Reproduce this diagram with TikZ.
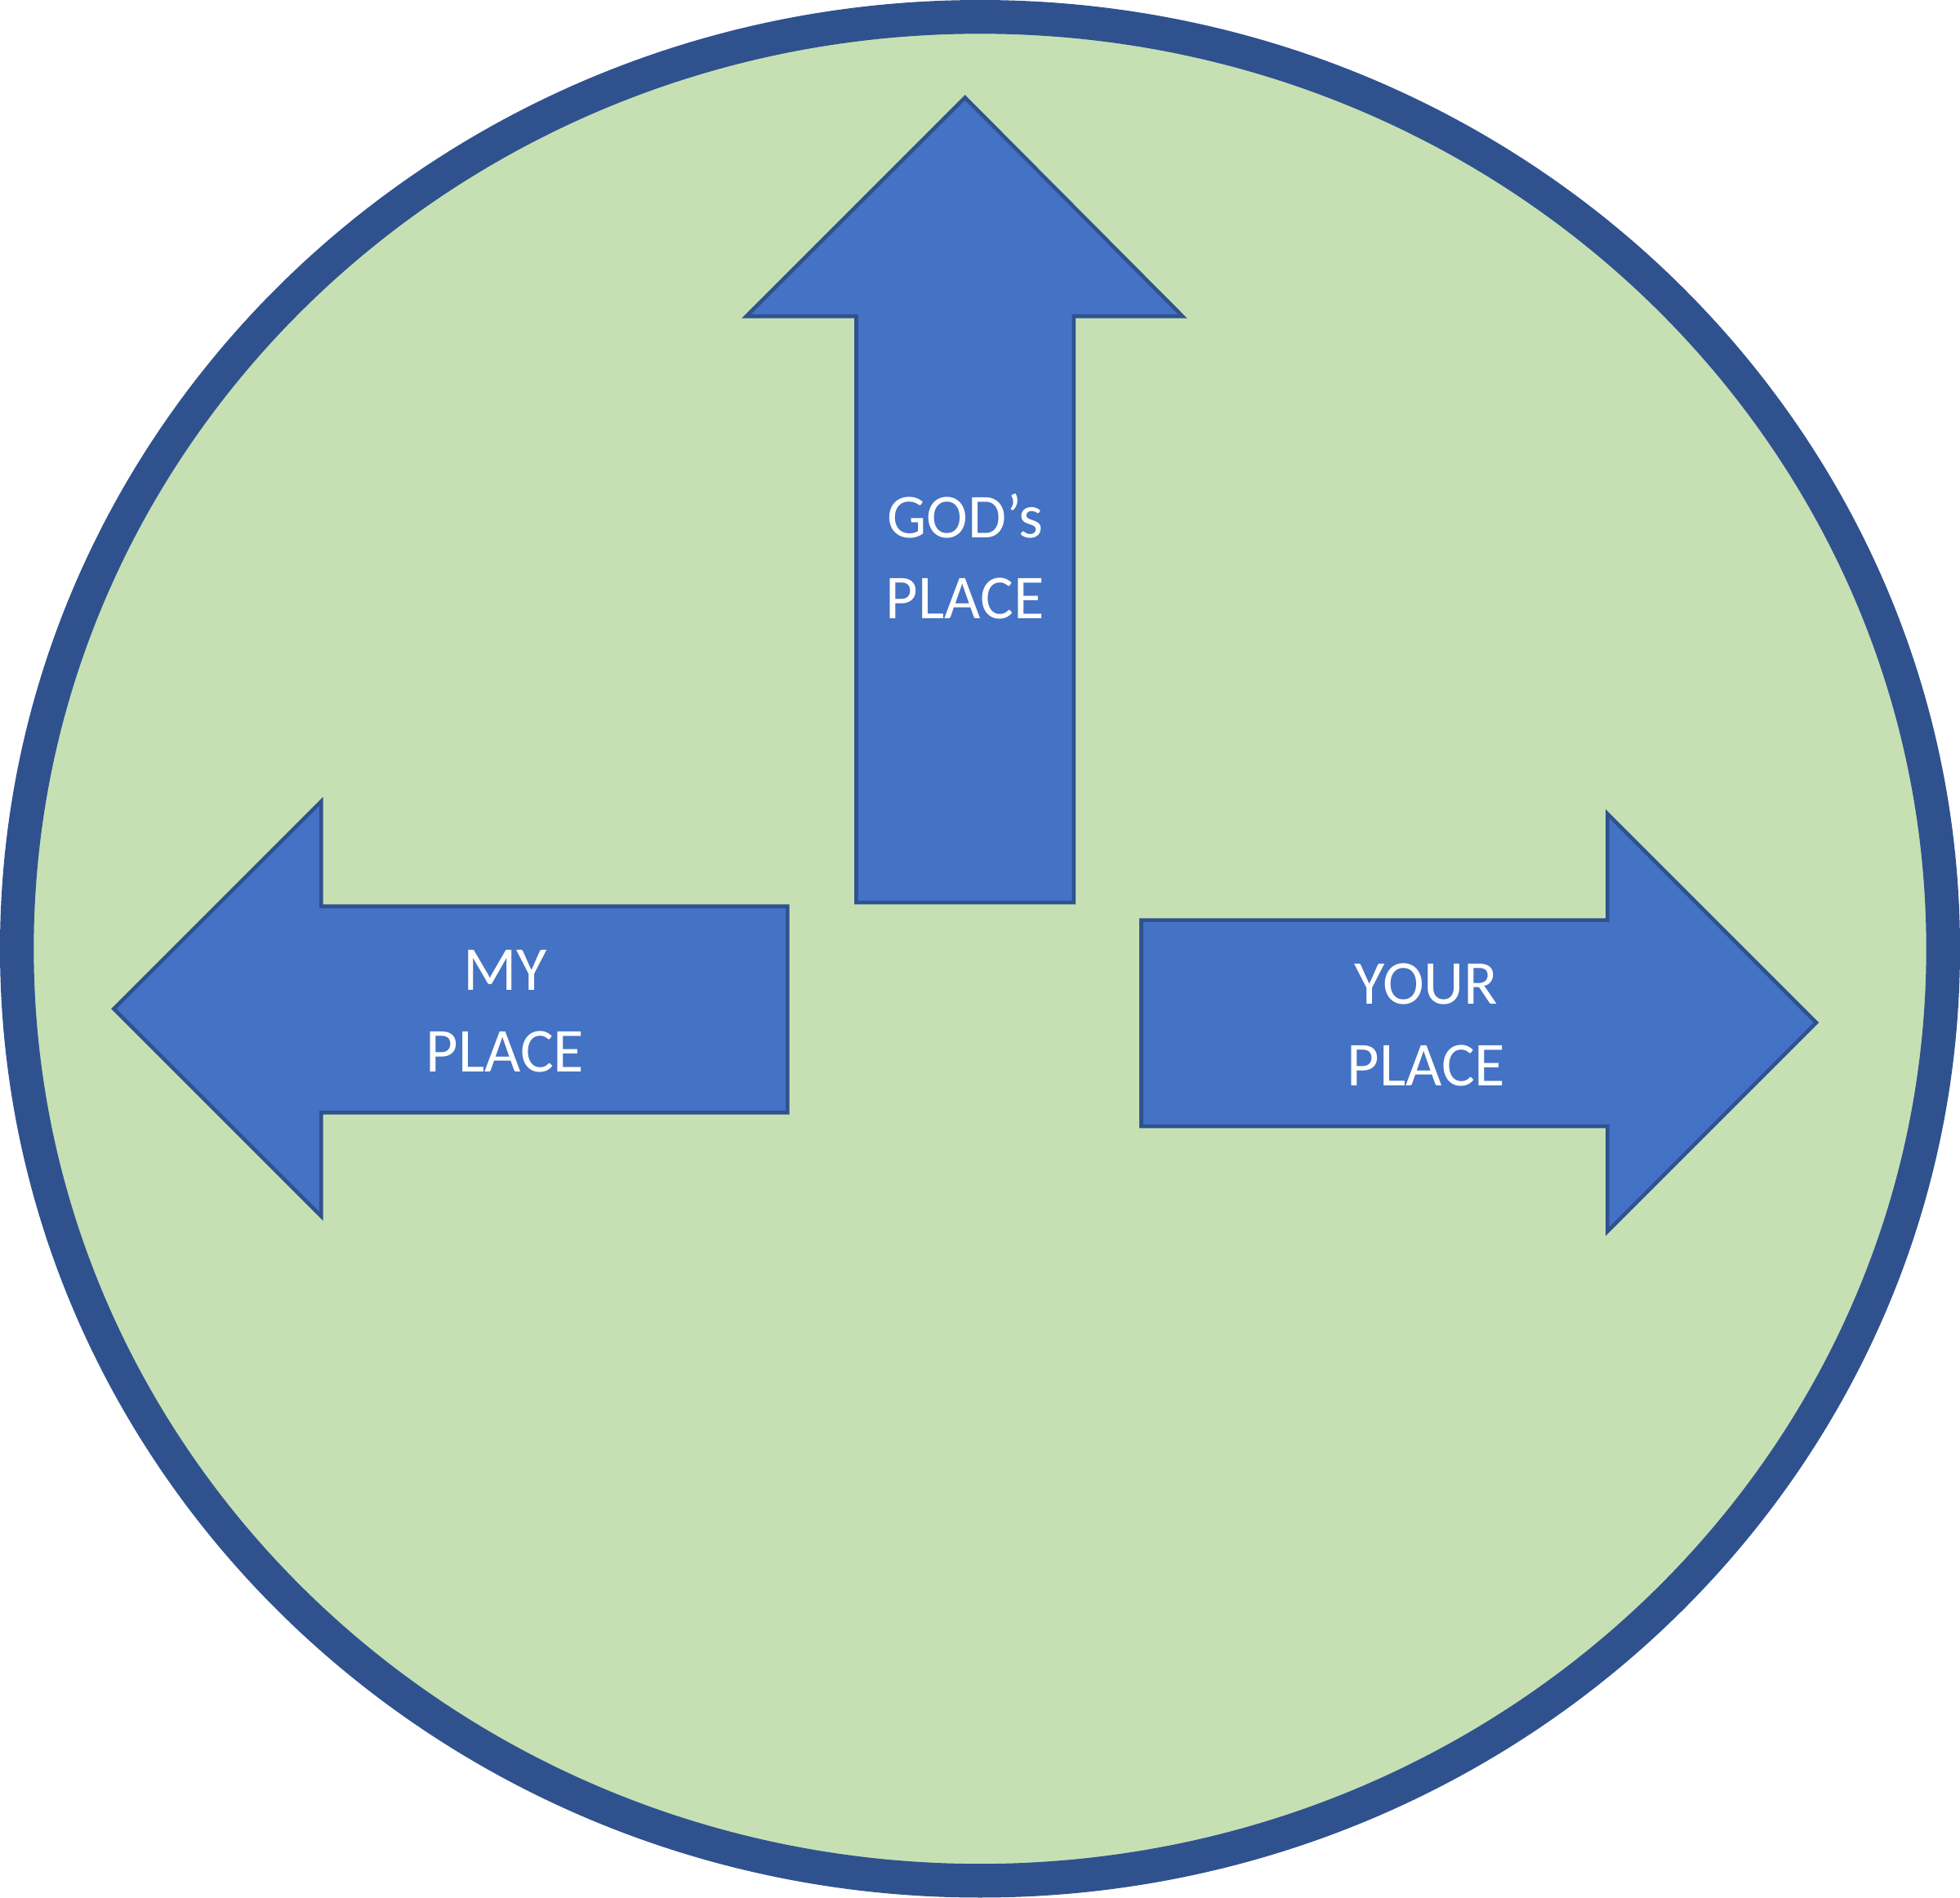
\documentclass[tikz,border=0pt]{standalone}
\usepackage{fontspec}
\setmainfont{Carlito}
\definecolor{bg}{HTML}{C6E0B4}
\definecolor{edge}{HTML}{2F528F}
\definecolor{arr}{HTML}{4472C4}
\begin{document}
\begin{tikzpicture}[x=1pt,y=-1pt,
  arrowshape/.style={fill=arr,draw=edge,line width=3pt,line join=miter},
  lbl/.style={text=white,align=center,font=\fontsize{50}{65}\selectfont}]
\useasboundingbox (0,0) rectangle (1568,1518);
\draw[fill=bg,draw=edge,line width=27pt] (784,759) ellipse [x radius=770.5,y radius=745.5];
\draw[arrowshape] (772,78) -- (946,253) -- (859,253) -- (859,722) -- (685,722) -- (685,253) -- (597,253) -- cycle;
\draw[arrowshape] (91,807) -- (257,641) -- (257,725) -- (630,725) -- (630,890) -- (257,890) -- (257,973) -- cycle;
\draw[arrowshape] (1453,818) -- (1286,651) -- (1286,736) -- (913,736) -- (913,901) -- (1286,901) -- (1286,985) -- cycle;
\node[lbl] (god) at (772,445) {GOD’s\\PLACE};
\node[lbl] (my) at (404,809) {MY\\PLACE};
\node[lbl] (your) at (1141,820) {YOUR\\PLACE};
\end{tikzpicture}
\end{document}
